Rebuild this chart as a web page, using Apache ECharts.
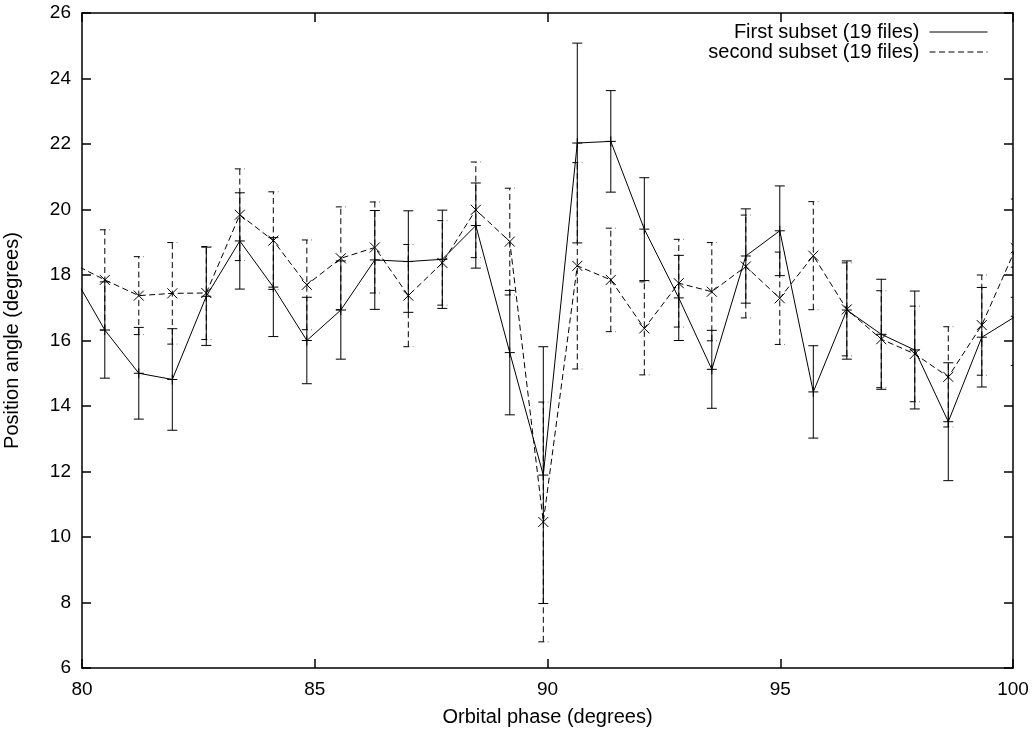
<!DOCTYPE html>
<html>
<head>
<meta charset="utf-8">
<script src="https://cdn.jsdelivr.net/npm/echarts@6/dist/echarts.min.js"></script>
<style>
html,body{margin:0;padding:0;background:#fff;}
#chart{width:1036px;height:731px;}
</style>
</head>
<body>
<div id="chart"></div>
<script>
// Orbital phase (degrees) of each file group (first and last lie just outside the plotted range)
const phase = [79.77, 80.49, 81.22, 81.94, 82.67, 83.39, 84.11, 84.83, 85.56, 86.29, 87.01, 87.74, 88.46, 89.19, 89.91, 90.64, 91.36, 92.08, 92.82, 93.53, 94.26, 94.99, 95.71, 96.43, 97.17, 97.89, 98.61, 99.33, 100.06];
// First subset (19 files): position angle and error
const firstAngle = [18.1, 16.32, 15.0, 14.81, 17.35, 19.04, 17.63, 16.0, 16.93, 18.46, 18.41, 18.48, 19.51, 15.63, 11.89, 22.03, 22.08, 19.4, 17.3, 15.12, 18.58, 19.35, 14.43, 16.93, 16.19, 15.71, 13.52, 16.1, 16.74];
const firstErr = [1.5, 1.47, 1.4, 1.55, 1.5, 1.47, 1.51, 1.32, 1.5, 1.51, 1.55, 1.5, 1.3, 1.9, 3.92, 3.05, 1.55, 1.57, 1.3, 1.19, 1.44, 1.37, 1.41, 1.5, 1.68, 1.8, 1.8, 1.52, 1.5];
// Second subset (19 files): position angle and error
const secondAngle = [18.37, 17.85, 17.37, 17.44, 17.45, 19.84, 19.05, 17.70, 18.51, 18.84, 17.37, 18.37, 19.99, 19.02, 10.46, 18.28, 17.85, 16.37, 17.75, 17.49, 18.26, 17.29, 18.59, 16.95, 16.04, 15.59, 14.89, 16.47, 18.82];
const secondErr = [1.5, 1.53, 1.19, 1.55, 1.42, 1.4, 1.49, 1.37, 1.57, 1.39, 1.56, 1.29, 1.46, 1.63, 3.66, 3.15, 1.58, 1.42, 1.34, 1.5, 1.57, 1.41, 1.65, 1.42, 1.48, 1.46, 1.53, 1.53, 1.5];

const seriesNames = ['First subset (19 files)', 'second subset (19 files)'];
const xTicks = {min: 80, max: 100, interval: 5};
const yTicks = {min: 6, max: 26, interval: 2};

const FONT = 'Liberation Sans';
const DASH = [6, 3.5];

function pts(ys) { return phase.map((x, i) => [x, ys[i]]); }
function errPts(ys, es) { return phase.map((x, i) => [x, ys[i], es[i]]); }

function makeRender(marker, dash) {
  return function (params, api) {
    const x = api.value(0), y = api.value(1), e = api.value(2);
    const c = api.coord([x, y]);
    const lo = api.coord([x, y - e]);
    const hi = api.coord([x, y + e]);
    const cw = 5;
    const st = {stroke: '#000', lineWidth: 1, lineDash: dash || null, fill: null};
    const mst = {stroke: '#000', lineWidth: 1, fill: null};
    const ch = [
      {type: 'line', shape: {x1: lo[0], y1: lo[1], x2: hi[0], y2: hi[1]}, style: st},
      {type: 'line', shape: {x1: hi[0] - cw, y1: hi[1], x2: hi[0] + cw, y2: hi[1]}, style: st},
      {type: 'line', shape: {x1: lo[0] - cw, y1: lo[1], x2: lo[0] + cw, y2: lo[1]}, style: st}
    ];
    const m = 5;
    if (marker === 'plus') {
      ch.push({type: 'line', shape: {x1: c[0] - m, y1: c[1], x2: c[0] + m, y2: c[1]}, style: mst});
      ch.push({type: 'line', shape: {x1: c[0], y1: c[1] - m, x2: c[0], y2: c[1] + m}, style: mst});
    } else {
      ch.push({type: 'line', shape: {x1: c[0] - m, y1: c[1] - m, x2: c[0] + m, y2: c[1] + m}, style: mst});
      ch.push({type: 'line', shape: {x1: c[0] - m, y1: c[1] + m, x2: c[0] + m, y2: c[1] - m}, style: mst});
    }
    return {type: 'group', children: ch};
  };
}

const axisCommon = {
  type: 'value',
  axisLine: {show: true, onZero: false, lineStyle: {color: '#000', width: 1.5}},
  axisTick: {show: true, inside: true, length: 9, lineStyle: {color: '#000', width: 1.5}},
  splitLine: {show: false}
};

const chart = echarts.init(document.getElementById('chart'));
chart.setOption({
  animation: false,
  backgroundColor: '#fff',
  grid: {left: 82, right: 23, top: 13, bottom: 63, containLabel: false, outerBoundsMode: 'none'},
  legend: {
    data: seriesNames.map(n => ({name: n, itemStyle: {opacity: 0}})),
    orient: 'vertical',
    align: 'right',
    right: 48,
    top: 22,
    padding: 0,
    itemWidth: 58,
    itemHeight: 14,
    itemGap: 0,
    itemStyle: {opacity: 0},
    lineStyle: {width: 1, color: '#000'},
    textStyle: {fontFamily: FONT, fontSize: 20, color: '#000', padding: [0, 5, 0, 0]},
    selectedMode: false
  },
  xAxis: [
    Object.assign({}, axisCommon, {
      position: 'bottom', min: xTicks.min, max: xTicks.max, interval: xTicks.interval,
      axisLabel: {fontFamily: FONT, fontSize: 19, color: '#000', margin: 12},
      name: 'Orbital phase (degrees)', nameLocation: 'middle', nameGap: 39,
      nameTextStyle: {fontFamily: FONT, fontSize: 20, color: '#000'}
    }),
    Object.assign({}, axisCommon, {
      position: 'top', min: xTicks.min, max: xTicks.max, interval: xTicks.interval,
      axisLabel: {show: false}
    })
  ],
  yAxis: [
    Object.assign({}, axisCommon, {
      position: 'left', min: yTicks.min, max: yTicks.max, interval: yTicks.interval,
      axisLabel: {fontFamily: FONT, fontSize: 19, color: '#000', margin: 11},
      name: 'Position angle (degrees)', nameLocation: 'middle', nameGap: 60,
      nameTextStyle: {fontFamily: FONT, fontSize: 20, color: '#000'}
    }),
    Object.assign({}, axisCommon, {
      position: 'right', min: yTicks.min, max: yTicks.max, interval: yTicks.interval,
      axisLabel: {show: false}
    })
  ],
  series: [
    {
      name: seriesNames[0], type: 'line', data: pts(firstAngle), symbol: 'none', clip: true,
      lineStyle: {color: '#000', width: 1, type: 'solid'}, itemStyle: {color: '#000'}, z: 3
    },
    {
      name: seriesNames[1], type: 'line', data: pts(secondAngle), symbol: 'none', clip: true,
      lineStyle: {color: '#000', width: 1, type: DASH}, itemStyle: {color: '#000'}, z: 3
    },
    {
      name: 'err1', type: 'custom', data: errPts(firstAngle, firstErr), clip: true,
      renderItem: makeRender('plus', null), z: 4
    },
    {
      name: 'err2', type: 'custom', data: errPts(secondAngle, secondErr), clip: true,
      renderItem: makeRender('cross', DASH), z: 4
    }
  ]
});
</script>
</body>
</html>
